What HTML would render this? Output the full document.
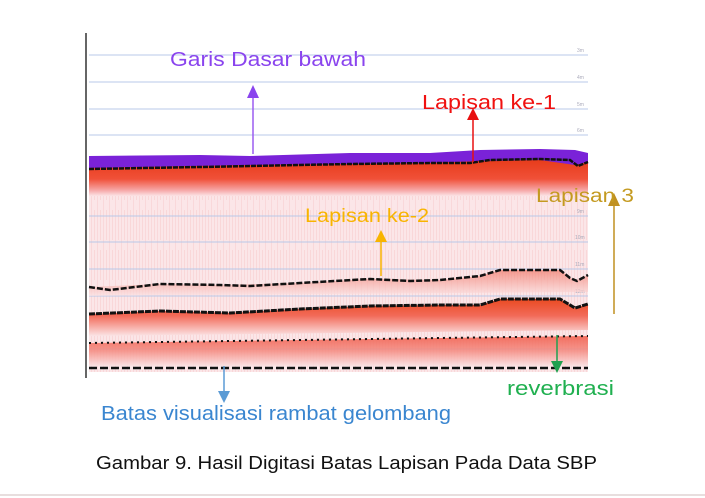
<!DOCTYPE html>
<html><head><meta charset="utf-8"><style>html,body{margin:0;padding:0;background:#fff}svg{display:block}text{font-family:"Liberation Sans",sans-serif}</style></head><body>
<svg width="705" height="498" viewBox="0 0 705 498" xmlns="http://www.w3.org/2000/svg">
<defs>
<linearGradient id="r1" x1="0" y1="0" x2="0" y2="1">
<stop offset="0" stop-color="#e63a18"/><stop offset="0.55" stop-color="#f05038"/><stop offset="0.85" stop-color="#f6a8a8"/><stop offset="1" stop-color="#fbe4e6"/></linearGradient>
<linearGradient id="r2" x1="0" y1="0" x2="0" y2="1">
<stop offset="0" stop-color="#ea4a22"/><stop offset="0.45" stop-color="#f26a58"/><stop offset="1" stop-color="#fbe4e6"/></linearGradient>
<linearGradient id="r3" x1="0" y1="0" x2="0" y2="1">
<stop offset="0" stop-color="#f07868"/><stop offset="1" stop-color="#fbe4e6"/></linearGradient>
<linearGradient id="r4" x1="0" y1="0" x2="0" y2="1">
<stop offset="0" stop-color="#f05a48"/><stop offset="0.5" stop-color="#f48a80"/><stop offset="1" stop-color="#fbe0e2"/></linearGradient>
<pattern id="vs" width="6" height="40" patternUnits="userSpaceOnUse"><rect x="1" width="1" height="40" fill="#f0a0a0" opacity="0.2"/><rect x="4" y="10" width="1" height="30" fill="#e88080" opacity="0.15"/></pattern>
</defs>
<rect width="705" height="498" fill="#fff"/>
<line x1="86" y1="33" x2="86" y2="378" stroke="#333" stroke-width="1.5"/>
<rect x="89" y="160" width="499" height="218" fill="#fbe6e8"/>
<rect x="89" y="190" width="499" height="188" fill="url(#vs)"/>
<g stroke="#b8c8e8" stroke-width="1">
<line x1="89" y1="55" x2="588" y2="55"/><line x1="89" y1="82" x2="588" y2="82"/><line x1="89" y1="109" x2="588" y2="109"/><line x1="89" y1="135" x2="588" y2="135"/>
<line x1="89" y1="189" x2="588" y2="189"/><line x1="89" y1="216" x2="588" y2="216"/><line x1="89" y1="242" x2="588" y2="242"/><line x1="89" y1="269" x2="588" y2="269"/><line x1="89" y1="296" x2="588" y2="296"/><line x1="89" y1="322" x2="588" y2="322"/><line x1="89" y1="349" x2="588" y2="349"/>
</g>
<g font-size="5" fill="#aab">
<text x="577" y="52">3m</text><text x="577" y="79">4m</text><text x="577" y="106">5m</text><text x="577" y="132">6m</text>
<text x="577" y="213">9m</text><text x="575" y="239">10m</text><text x="575" y="266">11m</text><text x="575" y="293">12m</text>
</g>
<path d="M89,166 L250,164 L400,162 L470,160 L520,158 L570,158 L588,160 L588,196 L89,196 Z" fill="url(#r1)"/>
<path d="M89,156 L200,155 L250,156 L350,153 L430,153 L480,150 L540,149 L575,150 L588,153 L588,162 L575,165 L540,160 L480,161 L430,163 L350,164 L250,165 L89,168 Z" fill="#7a22d8"/>
<path d="M89,169 L200,167 L250,166 L350,164 L430,163 L470,163 L490,160 L540,159 L570,160 L578,166 L588,162" fill="none" stroke="#111" stroke-width="2.5" stroke-dasharray="5,1"/>
<path d="M89,287 L160,284 L220,285 L300,283 L370,279 L440,280 L480,276 L500,270 L560,270 L575,281 L588,275 L588,292 L89,296 Z" fill="url(#r3)" opacity="0.7"/>
<path d="M89,287 L110,290 L160,284 L220,285 L250,286 L300,283 L370,279 L410,281 L440,280 L480,276 L500,270 L560,270 L570,278 L577,281 L588,275" fill="none" stroke="#111" stroke-width="2.5" stroke-dasharray="6,2"/>
<path d="M89,314 L160,311 L230,313 L300,309 L370,306 L440,305 L480,305 L500,299 L560,299 L575,308 L588,304 L588,330 L89,336 Z" fill="url(#r2)"/>
<path d="M89,314 L160,311 L230,313 L300,309 L370,306 L440,305 L480,305 L500,299 L560,299 L575,308 L588,304" fill="none" stroke="#111" stroke-width="3" stroke-dasharray="6,1"/>
<path d="M89,343 L300,340 L440,338 L588,336 L588,366 L89,366 Z" fill="url(#r4)" opacity="0.85"/>
<path d="M89,343 L300,340 L440,338 L588,336" fill="none" stroke="#111" stroke-width="2" stroke-dasharray="2,4"/>
<path d="M89,368 L588,368" fill="none" stroke="#111" stroke-width="2.5" stroke-dasharray="8,3"/>
<rect x="89" y="372" width="499" height="6" fill="#fff"/>
<g stroke-width="1.5">
<line x1="253" y1="98" x2="253" y2="154" stroke="#9a5cf0"/><polygon points="247,98 259,98 253,85" fill="#8a44ee"/>
<line x1="473" y1="118" x2="473" y2="162" stroke="#e81010"/><polygon points="467,120 479,120 473,108" fill="#e81010"/>
<line x1="381" y1="242" x2="381" y2="276" stroke="#f8b400"/><polygon points="375,242 387,242 381,230" fill="#f8b400"/>
<line x1="614" y1="205" x2="614" y2="314" stroke="#c09020"/><polygon points="608,206 620,206 614,193" fill="#c09020"/>
<line x1="557" y1="335" x2="557" y2="362" stroke="#20a050"/><polygon points="551,361 563,361 557,373" fill="#20a050"/>
<line x1="224" y1="366" x2="224" y2="392" stroke="#5b9bd5"/><polygon points="218,391 230,391 224,403" fill="#5b9bd5"/>
</g>
<text x="170" y="66" font-size="20" fill="#8a44ee" textLength="196" lengthAdjust="spacingAndGlyphs">Garis Dasar bawah</text>
<text x="422" y="109" font-size="20" fill="#f01010" textLength="134" lengthAdjust="spacingAndGlyphs">Lapisan ke-1</text>
<text x="305" y="222" font-size="19" fill="#f8b400" textLength="124" lengthAdjust="spacingAndGlyphs">Lapisan ke-2</text>
<text x="536" y="202" font-size="19" fill="#c49a20" textLength="98" lengthAdjust="spacingAndGlyphs">Lapisan 3</text>
<text x="507" y="395" font-size="20" fill="#20b050" textLength="107" lengthAdjust="spacingAndGlyphs">reverbrasi</text>
<text x="101" y="420" font-size="20" fill="#3a86d0" textLength="350" lengthAdjust="spacingAndGlyphs">Batas visualisasi rambat  gelombang</text>
<text x="96" y="469" font-size="18" fill="#111" textLength="501" lengthAdjust="spacingAndGlyphs">Gambar 9. Hasil Digitasi Batas Lapisan Pada Data SBP</text>
<line x1="0" y1="495" x2="705" y2="495" stroke="#e0d4d4" stroke-width="1.5"/>
</svg>
</body></html>
